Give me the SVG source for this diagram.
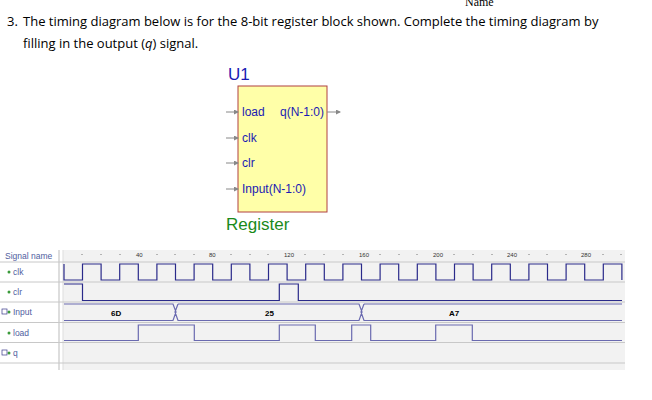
<svg xmlns="http://www.w3.org/2000/svg" width="652" height="400" viewBox="0 0 652 400">
<style>
.q{font-family:"Open Sans","Liberation Sans",sans-serif;font-size:13px;fill:#000}
.pin{font-family:"Liberation Sans",Arial,sans-serif;font-size:12px;fill:#1a1ab4}
.sig{font-family:"Liberation Sans",Arial,sans-serif;font-size:8.5px;fill:#5060a0}
.tk{font-family:"Liberation Sans",Arial,sans-serif;font-size:6px;fill:#333}
.w{fill:none;stroke:#2a2a8a;stroke-width:1.2}
.b{fill:none;stroke:#6a6ab0;stroke-width:1.2}
.arr{stroke:#888;stroke-width:1;fill:none}
.sep{stroke:#c8c8c8;stroke-width:1}
</style>
<defs>
<marker id="a" markerWidth="5" markerHeight="5" refX="4" refY="2.5" orient="auto"><path d="M0,0 L5,2.5 L0,5z" fill="#888"/></marker>
</defs>
<text x="465" y="6" font-family="Liberation Serif,serif" font-size="12">Name</text>
<text class="q" x="7" y="26">3.</text>
<text class="q" x="23" y="26">The timing diagram below is for the 8-bit register block shown. Complete the timing diagram by</text>
<text class="q" x="23" y="48">filling in the output (<tspan font-style="italic">q</tspan>) signal.</text>

<g id="register">
<text x="228" y="80" font-family="Liberation Sans,Arial,sans-serif" font-size="17" fill="#1a1ab4">U1</text>
<rect x="238" y="86" width="89" height="126" fill="#ffffa8" stroke="#b04040" stroke-width="1"/>
<line class="arr" x1="226" y1="112" x2="238" y2="112" marker-end="url(#a)"/>
<line class="arr" x1="226" y1="138" x2="238" y2="138" marker-end="url(#a)"/>
<line class="arr" x1="226" y1="163" x2="238" y2="163" marker-end="url(#a)"/>
<line class="arr" x1="226" y1="189" x2="238" y2="189" marker-end="url(#a)"/>
<line class="arr" x1="327" y1="112" x2="340" y2="112" marker-end="url(#a)"/>
<text class="pin" x="242" y="116">load</text>
<text class="pin" x="280" y="116">q(N-1:0)</text>
<text class="pin" x="242" y="142">clk</text>
<text class="pin" x="242" y="167">clr</text>
<text class="pin" x="242" y="193">Input(N-1:0)</text>
<text x="226" y="230" font-family="Liberation Sans,Arial,sans-serif" font-size="17" fill="#1a8a1a">Register</text>
</g>

<g id="timing">
<rect x="63" y="250" width="562" height="120" fill="#f2f2f2"/>
<line x1="59" y1="250" x2="59" y2="370" stroke="#bbb"/>
<line x1="63" y1="250" x2="63" y2="370" stroke="#ddd"/>
<g class="sep">
<line x1="0" y1="262" x2="625" y2="262"/>
<line x1="0" y1="282" x2="625" y2="282"/>
<line x1="0" y1="302" x2="625" y2="302"/>
<line x1="0" y1="322.5" x2="625" y2="322.5"/>
<line x1="0" y1="342.5" x2="625" y2="342.5"/>
<line x1="0" y1="363" x2="625" y2="363"/>
</g>
<text class="sig" x="5" y="259">Signal name</text>
<text class="sig" x="13" y="275">clk</text>
<text class="sig" x="13" y="295">clr</text>
<text class="sig" x="13" y="315">Input</text>
<text class="sig" x="13" y="336">load</text>
<text class="sig" x="13" y="356">q</text>
<g fill="#3a9a3a"><circle cx="9" cy="272" r="1.5"/><circle cx="9" cy="292" r="1.5"/><circle cx="9" cy="312" r="1.5"/><circle cx="9" cy="333" r="1.5"/><circle cx="9" cy="353" r="1.5"/></g>
<g fill="none" stroke="#3a3a8a" stroke-width="0.7"><rect x="2" y="309" width="5" height="5"/><rect x="2" y="350" width="5" height="5"/></g>
<g class="tk">
<text x="136" y="257">40</text><text x="209" y="257">80</text><text x="284" y="257">120</text><text x="359" y="257">160</text><text x="433" y="257">200</text><text x="507" y="257">240</text><text x="581" y="257">280</text>
</g>
<g stroke="#555" stroke-width="0.8">
<path d="M82,254v1M101,254v1M120,254v1M157,254v1M175,254v1M194,254v1M231,254v1M250,254v1M268,254v1M305,254v1M324,254v1M343,254v1M380,254v1M399,254v1M417,254v1M454,254v1M473,254v1M492,254v1M529,254v1M547,254v1M566,254v1M603,254v1M621,254v1"/>
</g>
</g>

<g id="waves">
<path class="w" d="M64,264 V280 H82.5 V264 H101.1 V280 H119.7 V264 H138.3 V280 H156.9 V264 H175.5 V280 H194.1 V264 H212.7 V280 H231.3 V264 H249.9 V280 H268.5 V264 H287.1 V280 H305.7 V264 H324.3 V280 H342.9 V264 H361.5 V280 H380.1 V264 H398.7 V280 H417.3 V264 H435.9 V280 H454.5 V264 H473.1 V280 H491.7 V264 H510.3 V280 H528.9 V264 H547.5 V280 H566.1 V264 H584.7 V280 H603.3 V264 H621.9 V280"/>
<path class="w" d="M64,284 H82.5 V300.5 H279.3 V284 H298.3 V300.5 H622"/>
<path class="b" d="M64,304 H173 L176,312 L173,320.5 H64 M178,304 L175,312 L178,320.5 H359 L362,312 L359,304 H178 M364,304 L361,312 L364,320.5 H622 M364,304 H622"/>
<text x="111" y="316" font-family="Liberation Sans,Arial,sans-serif" font-size="8" font-weight="bold">6D</text>
<text x="265" y="316" font-family="Liberation Sans,Arial,sans-serif" font-size="8" font-weight="bold">25</text>
<text x="449" y="316" font-family="Liberation Sans,Arial,sans-serif" font-size="8" font-weight="bold">A7</text>
<path class="b" d="M64,340.5 H138.3 V325 H194.3 V340.5 H279.3 V325 H315.3 V340.5 H351.7 V325 H370.7 V340.5 H435.7 V325 H472.3 V340.5 H622"/>
</g>
</svg>
